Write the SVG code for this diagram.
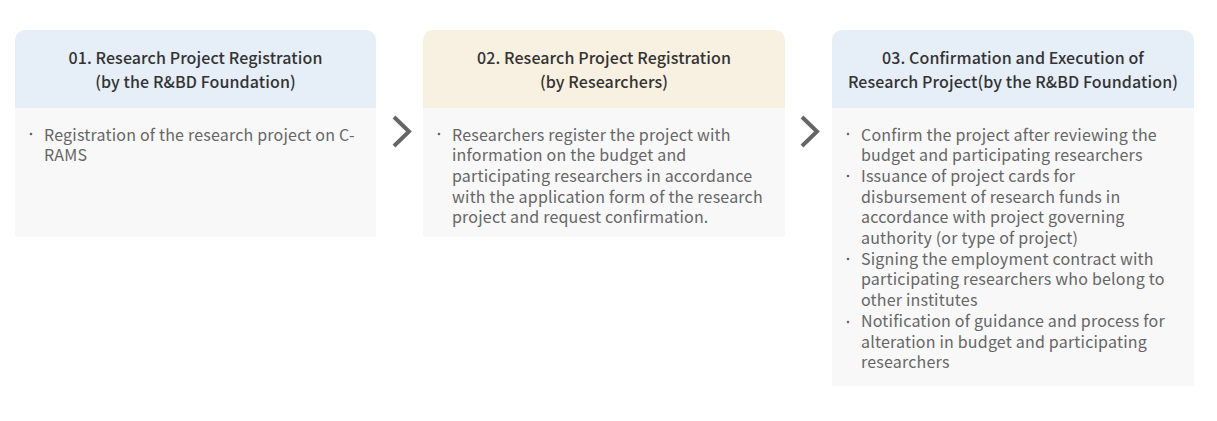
<svg xmlns="http://www.w3.org/2000/svg" width="1217" height="421" viewBox="0 0 1217 421">
<defs>
<style>
.hd{font-family:"Noto Sans CJK KR","Noto Sans",sans-serif;font-size:16px;font-weight:500;fill:#333;text-anchor:middle;letter-spacing:0.1px}
.bd{font-family:"Noto Sans CJK KR","Noto Sans",sans-serif;font-size:16px;font-weight:400;fill:#666;letter-spacing:0.2px}
.body{fill:#f8f8f8}
.blue{fill:#e6eef8}
.beige{fill:#f8f0e0}
.dot{fill:#666}
.chev{fill:none;stroke:#666;stroke-width:4}
</style>
</defs>
<rect width="1217" height="421" fill="#fff"/>
<g id="node1">
<path class="blue" d="M15,108 V40 a10,10 0 0 1 10,-10 H366 a10,10 0 0 1 10,10 V108 Z"/>
<rect class="body" x="15" y="108" width="361" height="129"/>
<text class="hd" x="195.5" y="64">01. Research Project Registration</text>
<text class="hd" x="195.5" y="88">(by the R&amp;BD Foundation)</text>
<circle class="dot" cx="31" cy="134" r="1.3"/>
<text class="bd" x="44" y="140.5">Registration of the research project on C-</text>
<text class="bd" x="44" y="161.2">RAMS</text>
</g>
<g id="node2">
<path class="beige" d="M423,108 V40 a10,10 0 0 1 10,-10 H775 a10,10 0 0 1 10,10 V108 Z"/>
<rect class="body" x="423" y="108" width="362" height="129"/>
<text class="hd" x="604" y="64">02. Research Project Registration</text>
<text class="hd" x="604" y="88">(by Researchers)</text>
<circle class="dot" cx="439" cy="134" r="1.3"/>
<text class="bd" x="452" y="140.5">Researchers register the project with</text>
<text class="bd" x="452" y="161.2">information on the budget and</text>
<text class="bd" x="452" y="181.9">participating researchers in accordance</text>
<text class="bd" x="452" y="202.6">with the application form of the research</text>
<text class="bd" x="452" y="223.3">project and request confirmation.</text>
</g>
<g id="node3">
<path class="blue" d="M832,108 V40 a10,10 0 0 1 10,-10 H1184 a10,10 0 0 1 10,10 V108 Z"/>
<rect class="body" x="832" y="108" width="362" height="278"/>
<text class="hd" x="1013" y="64">03. Confirmation and Execution of</text>
<text class="hd" x="1013" y="88">Research Project(by the R&amp;BD Foundation)</text>
<circle class="dot" cx="848" cy="134" r="1.3"/>
<text class="bd" x="861" y="140.5">Confirm the project after reviewing the</text>
<text class="bd" x="861" y="161.2">budget and participating researchers</text>
<circle class="dot" cx="848" cy="176" r="1.3"/>
<text class="bd" x="861" y="181.9">Issuance of project cards for</text>
<text class="bd" x="861" y="202.6">disbursement of research funds in</text>
<text class="bd" x="861" y="223.3">accordance with project governing</text>
<text class="bd" x="861" y="244">authority (or type of project)</text>
<circle class="dot" cx="848" cy="259" r="1.3"/>
<text class="bd" x="861" y="264.7">Signing the employment contract with</text>
<text class="bd" x="861" y="285.4">participating researchers who belong to</text>
<text class="bd" x="861" y="306.1">other institutes</text>
<circle class="dot" cx="848" cy="322" r="1.3"/>
<text class="bd" x="861" y="326.8">Notification of guidance and process for</text>
<text class="bd" x="861" y="347.5">alteration in budget and participating</text>
<text class="bd" x="861" y="368.2">researchers</text>
</g>
<g id="connectors">
<polyline class="chev" points="394,117 409,131.5 394,146"/>
<polyline class="chev" points="802,117 817,131.5 802,146"/>
</g>
</svg>
